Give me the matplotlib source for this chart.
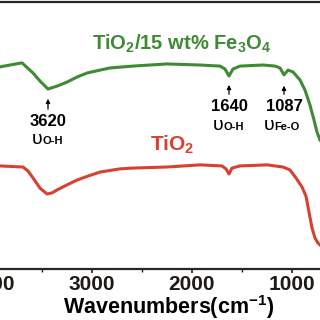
import numpy as np
import matplotlib
matplotlib.use('Agg')
import matplotlib.pyplot as plt

plt.rcParams['font.family'] = ['Liberation Sans', 'DejaVu Sans']
plt.rcParams['font.weight'] = 'bold'
plt.rcParams['mathtext.fontset'] = 'custom'
plt.rcParams['mathtext.rm'] = 'Liberation Sans:bold'
plt.rcParams['mathtext.it'] = 'Liberation Sans:bold'
plt.rcParams['mathtext.bf'] = 'Liberation Sans:bold'

# Espectro TiO2/15 wt% Fe3O4 (verde)
w_fe = [3920, 3820, 3700, 3590, 3520, 3440, 3350, 3250, 3150, 3050, 2920, 2820,
        2590, 2250, 1920, 1720, 1670, 1630, 1590, 1520, 1290, 1170, 1120, 1080,
        1040, 990, 920, 870, 820, 780, 750, 720]
t_fe = [75.7, 76.4, 77.2, 73.4, 70.4, 67.4, 68.5, 70.0, 71.9, 73.4, 74.5, 75.3,
        76.0, 76.8, 76.4, 76.0, 74.9, 72.3, 74.9, 76.0, 76.4, 76.0, 75.3, 72.7,
        74.5, 73.8, 70.8, 67.0, 61.4, 55.8, 51.3, 48.3]

# Espectro TiO2 (rojo)
w_ti = [3920, 3690, 3640, 3590, 3520, 3450, 3400, 3350, 3250, 3150, 3040, 2920,
        2720, 2590, 2250, 1920, 1700, 1660, 1630, 1600, 1520, 1250, 1090, 1020,
        960, 900, 860, 830, 800, 770, 740, 720]
t_ti = [38.6, 38.2, 36.7, 34.1, 30.3, 28.1, 28.5, 29.6, 31.5, 33.3, 34.8, 36.3,
        37.5, 37.8, 38.2, 39.0, 38.6, 37.5, 35.6, 37.8, 38.6, 39.0, 38.2, 37.1,
        34.1, 30.7, 27.3, 21.3, 15.4, 11.6, 9.7, 9.0]

# Picos marcados
picos = ['3620', '1640', '1087']
picos_pos = [3440, 1630, 1080]
picos_txt = ['O-H', 'O-H', 'Fe-O']

xticks = [4000, 3000, 2000, 1000]

fig = plt.figure(figsize=(3.2, 3.2), dpi=100)
ax = fig.add_axes([-8/320, 51/320, 340/320, 267/320])

verde = '#3f8a35'
rojo = '#d8412f'
ax.plot(w_fe, t_fe, color=verde, lw=2.2)
ax.plot(w_ti, t_ti, color=rojo, lw=2.2)

ax.set_xlim(4000, 600)
ax.set_ylim(0, 100)
ax.set_yticks([])
ax.set_xticks(xticks)
ax.set_xticks([3500, 2500, 1500], minor=True)
ax.tick_params(axis='x', which='major', direction='out', length=3, width=1.2,
               labelsize=15, pad=1, colors='#1e1a16')
ax.tick_params(axis='x', which='minor', direction='out', length=2, width=1.0,
               colors='#1e1a16')
for s in ax.spines.values():
    s.set_linewidth(1.6)
    s.set_color('#2b2620')
ax.set_xlabel('Wavenumbers(cm$^{-1}$)', fontsize=15.5, fontweight='bold')
ax.xaxis.label.set_verticalalignment('center')
ax.xaxis.set_label_coords(0.52, -0.142)

ax.text(2100, 84.5, 'TiO$_2$/15 wt% Fe$_3$O$_4$', color=verde, fontsize=14.5,
        ha='center', va='center')
ax.text(2200, 46.4, 'TiO$_2$', color=rojo, fontsize=15, ha='center', va='center')

# posiciones verticales (flecha, numero, simbolo)
flecha = [(64.8, 58.8), (70.0, 64.4), (69.7, 64.4)]
num_y = [55.1, 61.0, 61.0]
sim_y = [46.8, 52.0, 52.0]

for p, wp, t, fl, ny, sy in zip(picos, picos_pos, picos_txt, flecha, num_y, sim_y):
    ax.annotate('', xy=(wp, fl[0]), xytext=(wp, fl[1]),
                arrowprops=dict(arrowstyle='-|>', color='k', lw=0.9,
                                mutation_scale=6))
    ax.text(wp, ny, p, fontsize=12, ha='center', va='center', color='k')
    ancho = 160 if t == 'O-H' else 200
    ax.text(wp + ancho, sy, 'υ', fontsize=14, ha='left', va='baseline',
            color='k', fontweight='normal')
    ax.text(wp + ancho - 105, sy, t, fontsize=8, ha='left', va='baseline',
            color='k')

fig.savefig('out.png', dpi=100, facecolor='white')
